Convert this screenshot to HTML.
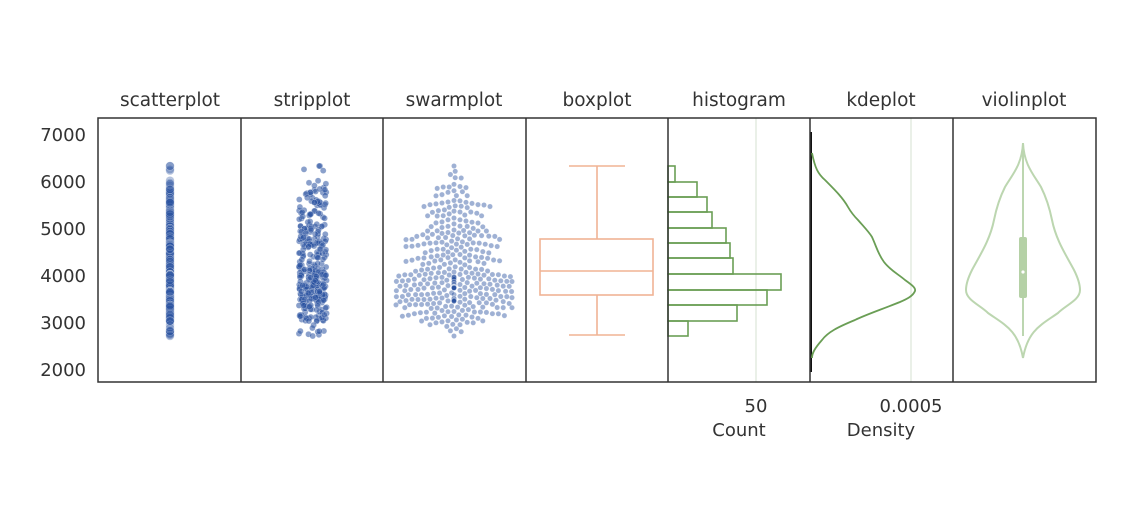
<!DOCTYPE html>
<html><head><meta charset="utf-8"><style>
html,body{margin:0;padding:0;background:#fff;width:1134px;height:531px;overflow:hidden}
text{font-family:"DejaVu Sans","Liberation Sans",sans-serif;fill:#333}
</style></head><body>
<svg id="s" width="1134" height="531" xmlns="http://www.w3.org/2000/svg">
<g font-size="18.5" text-anchor="middle">
<text x="170" y="106">scatterplot</text>
<text x="312" y="106">stripplot</text>
<text x="454" y="106">swarmplot</text>
<text x="597" y="106">boxplot</text>
<text x="739" y="106">histogram</text>
<text x="881" y="106">kdeplot</text>
<text x="1024" y="106">violinplot</text>
</g>
<g font-size="18" text-anchor="end">
<text x="86" y="141">7000</text>
<text x="86" y="188">6000</text>
<text x="86" y="235">5000</text>
<text x="86" y="282">4000</text>
<text x="86" y="329">3000</text>
<text x="86" y="376">2000</text>
</g>
<g font-size="18" text-anchor="middle">
<text x="756" y="412">50</text>
<text x="911" y="412">0.0005</text>
<text x="739" y="436">Count</text>
<text x="881" y="436">Density</text>
</g>
<g id="pts"></g>
<g stroke="#f0b394" stroke-width="1.6" fill="none">
<line x1="597" y1="166" x2="597" y2="239"/><line x1="597" y1="295" x2="597" y2="335"/>
<line x1="569" y1="166" x2="625" y2="166"/><line x1="569" y1="335" x2="625" y2="335"/>
<rect x="540" y="239" width="113" height="56"/><line x1="540" y1="271" x2="653" y2="271"/>
</g>
<line x1="756" y1="118" x2="756" y2="382" stroke="#e4ebe0" stroke-width="1.5"/>
<g stroke="#6a9e55" stroke-width="1.6" fill="none">
<rect x="668" y="166" width="7" height="16"/><rect x="668" y="182" width="29" height="15"/>
<rect x="668" y="197" width="39" height="15"/><rect x="668" y="212" width="44" height="16"/>
<rect x="668" y="228" width="58" height="15"/><rect x="668" y="243" width="62" height="15"/>
<rect x="668" y="258" width="65" height="16"/><rect x="668" y="274" width="113" height="16"/>
<rect x="668" y="290" width="99" height="15"/><rect x="668" y="305" width="69" height="16"/>
<rect x="668" y="321" width="20" height="15"/>
</g>
<line x1="911" y1="118" x2="911" y2="382" stroke="#e4ebe0" stroke-width="1.5"/>
<line x1="811" y1="132" x2="811" y2="372" stroke="#111" stroke-width="2"/>
<path d="M812,153 C815,168 818,174 825,180 C835,190 843,198 848,207 C852,214 855,217 858,220 C865,228 869,232 872,237 C877,248 878,254 884,262 C890,270 898,274 905,280 C912,285 916,288 915,291 C913,296 907,299 900,302 C880,310 865,315 855,320 C838,327 828,332 822,340 C815,348 812,353 812,358" stroke="#6a9e55" stroke-width="1.8" fill="none"/>
<g stroke="#bcd6b0" fill="none" stroke-width="2">
<path d="M1023,143 C1022,165 1012,175 1005,187 C1000,197 996,210 994,220 C990,240 980,255 972,270 C967,280 966,287 966,290 C966,300 980,305 988,313 C1005,325 1018,330 1023,358 C1028,330 1041,325 1058,313 C1066,305 1080,300 1080,290 C1080,287 1079,280 1074,270 C1066,255 1056,240 1052,220 C1050,210 1046,197 1041,187 C1034,175 1024,165 1023,143 Z"/>
<line x1="1023" y1="143" x2="1023" y2="336"/>
</g>
<rect x="1019" y="237" width="8" height="61" rx="2" fill="#b5d1a6"/>
<circle cx="1023" cy="272" r="1.6" fill="#fff"/>
<g stroke="#333" stroke-width="1.5" fill="none">
<rect x="98" y="118" width="998" height="264"/>
<line x1="241" y1="118" x2="241" y2="382"/><line x1="383" y1="118" x2="383" y2="382"/>
<line x1="526" y1="118" x2="526" y2="382"/><line x1="668" y1="118" x2="668" y2="382"/>
<line x1="810" y1="118" x2="810" y2="382"/><line x1="953" y1="118" x2="953" y2="382"/>
</g>
</svg>
<script>
(function(){
var seed=7;function r(){seed=(seed*16807)%2147483647;return (seed-1)/2147483646;}
var tops=[166,182,197,212,228,243,258,274,290,305,321,336];
var w=[7,29,39,44,58,62,65,113,99,69,20];
var sw=[7,22,34,44,58,62,65,150,120,75,20];
var vals=[],sv=[];
for(var i=0;i<11;i++){var n=Math.round(w[i]*50/88);for(var k=0;k<n;k++){vals.push(tops[i]+r()*(tops[i+1]-tops[i]));}
 var m=Math.round(sw[i]*50/88);for(var k=0;k<m;k++){sv.push(tops[i]+r()*(tops[i+1]-tops[i]));}}
vals.push(166);vals.push(336);sv.push(166);sv.push(336);
var g=document.getElementById('pts'),h='';
function c(x,y,rr,op){h+='<circle cx="'+x.toFixed(1)+'" cy="'+y.toFixed(1)+'" r="'+rr+'" fill="#2a52a0" fill-opacity="'+op+'" stroke="#fff" stroke-opacity="0.4" stroke-width="0.5"/>';}
vals.forEach(function(y){c(170,y,4.3,0.35);});
vals.forEach(function(y){c(313+(r()-0.5)*28,y,3,0.55);});
var s=sv.sort(function(a,b){return a-b}),placed=[],d=5.4;
s.forEach(function(y){
 var best=null;
 for(var t=0;t<100;t++){var off=(t%2?1:-1)*Math.ceil(t/2)*1.2;var ok=true;
  for(var j=placed.length-1;j>=0;j--){var p=placed[j];if(y-p[1]>d)break;var dx=p[0]-off,dy=p[1]-y;if(dx*dx+dy*dy<d*d){ok=false;break;}}
  if(ok){best=off;break;}}
 if(best===null)best=0;best=Math.max(-58,Math.min(58,best));placed.push([best,y]);
});
placed.forEach(function(p){c(454+p[0],p[1],2.6,0.45);});
g.innerHTML=h;
})();
</script>
</body></html>
